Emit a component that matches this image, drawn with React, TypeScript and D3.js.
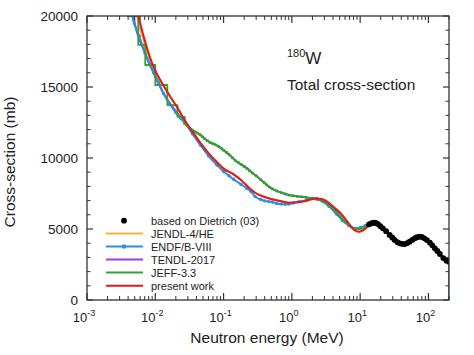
import React from "react";
import * as d3 from "d3";

// ---- data (energies in MeV, cross-sections in mb) ----
const presentE = [0.0050, 0.0057, 0.0070, 0.0094, 0.0125, 0.0166, 0.022, 0.0274, 0.035, 0.046, 0.06, 0.08, 0.1, 0.14, 0.18, 0.25, 0.29, 0.4, 0.52, 0.7, 0.91, 1.2, 1.6, 2.25, 2.8, 3.5, 4.3, 5.2, 6.3, 7.3, 8.2, 9.7, 11, 12.9, 15, 18, 21.5, 27, 32, 38, 45, 53, 63, 74, 87, 105, 124, 147, 184, 200];
const presentXS = [21500, 20000, 18300, 16430, 15300, 14320, 13400, 12600, 11850, 11050, 10350, 9700, 9250, 8850, 8450, 7800, 7550, 7250, 7090, 6950, 6850, 6880, 6990, 7150, 7100, 6820, 6450, 6100, 5600, 5200, 4930, 4810, 4900, 5160, 5350, 5330, 5030, 4560, 4210, 3980, 3940, 4100, 4330, 4450, 4330, 4030, 3630, 3230, 2760, 2690];

const jendlE = [0.0047, 0.0054, 0.0068, 0.0090, 0.0125, 0.0166, 0.022, 0.0274, 0.035, 0.046, 0.06, 0.08, 0.1, 0.14, 0.18, 0.25, 0.29, 0.4, 0.52, 0.7, 0.91, 1.2, 1.6, 2.25, 2.8, 3.5, 4.3, 5.2, 6.3, 7.3, 8.2, 9.7, 11, 12.9, 15, 18, 21.5, 27, 32, 38, 45, 53, 63, 74, 87, 105, 124, 147, 184, 200];
const jendlXS = [21500, 20000, 18200, 16400, 15250, 14300, 13380, 12600, 11850, 11050, 10350, 9700, 9250, 8850, 8450, 7800, 7550, 7250, 7090, 6950, 6850, 6880, 6990, 7150, 7100, 6820, 6450, 6100, 5600, 5200, 4930, 4810, 4900, 5160, 5350, 5330, 5030, 4560, 4210, 3980, 3940, 4100, 4330, 4450, 4330, 4030, 3630, 3230, 2760, 2690];

const endfE = [0.0042, 0.0046, 0.0058, 0.0071, 0.0083, 0.0095, 0.0112, 0.0132, 0.016, 0.02, 0.0235, 0.0274, 0.035, 0.046, 0.06, 0.08, 0.1, 0.12, 0.14, 0.18, 0.22, 0.25, 0.29, 0.35, 0.4, 0.46, 0.52, 0.6, 0.7, 0.8, 0.91, 1.05, 1.27, 1.6, 2.0, 2.3, 2.8, 3.5, 4.5, 5.5, 6.8, 8.2, 10, 12, 14, 16, 18.2, 21.5, 24, 27, 32, 38, 45, 53, 63, 74, 87, 105, 124, 147, 165, 184, 200];
const endfXS = [21500, 20000, 18600, 17370, 16600, 16000, 15300, 14550, 13850, 13200, 12800, 12450, 11700, 10900, 10150, 9500, 9050, 8750, 8500, 8150, 7850, 7650, 7280, 7080, 6980, 6930, 6900, 6800, 6760, 6740, 6760, 6830, 6920, 7000, 7160, 7150, 6950, 6600, 6050, 5600, 5250, 5050, 5100, 5250, 5350, 5440, 5350, 5050, 4850, 4580, 4230, 3990, 3940, 4110, 4340, 4460, 4340, 4040, 3640, 3240, 2950, 2770, 2700];

const tendlE = [0.0044, 0.0048, 0.0071, 0.0095, 0.0132, 0.02, 0.027, 0.032, 0.038, 0.045, 0.053, 0.063, 0.075, 0.085, 0.1, 0.12, 0.15, 0.18, 0.22, 0.264, 0.3, 0.35, 0.43, 0.52, 0.7, 0.91, 1.2, 1.6, 2.25, 2.8, 3.5, 4.3, 5.2, 6.3, 7.3, 8.5, 10, 12, 14.5, 18.2, 21.5, 27, 32, 38, 45, 53, 63, 74, 87, 105, 124, 147, 184, 200];
const tendlXS = [21500, 20000, 17370, 15950, 14550, 13300, 12500, 12100, 11850, 11650, 11350, 11100, 10950, 10800, 10550, 10250, 9800, 9550, 9300, 8950, 8750, 8480, 8100, 7820, 7550, 7390, 7300, 7230, 7090, 7000, 6690, 6300, 5850, 5400, 5150, 5000, 5000, 5200, 5380, 5350, 5050, 4580, 4230, 3990, 3940, 4110, 4340, 4460, 4340, 4040, 3640, 3240, 2770, 2700];

// JEFF-3.3: coarse histogram at low energy, fine points above
const jeffStepE = [0.0030, 0.0040, 0.00563, 0.00713, 0.0100, 0.0150, 0.0211, 0.027];
const jeffStepXS = [23000, 20000, 17960, 16550, 15140, 13730, 12900, 12400];
const jeffE = [0.027, 0.030, 0.032, 0.035, 0.038, 0.041, 0.045, 0.049, 0.053, 0.058, 0.063, 0.069, 0.075, 0.085, 0.093, 0.1, 0.11, 0.12, 0.135, 0.15, 0.165, 0.18, 0.2, 0.22, 0.24, 0.264, 0.3, 0.35, 0.39, 0.43, 0.47, 0.52, 0.6, 0.7, 0.8, 0.91, 1.05, 1.2, 1.4, 1.6, 1.9, 2.25, 2.8, 3.5, 4.3, 5.2, 6.3, 7.3, 8.5, 10, 12, 14.5, 16.3, 18.2, 21.5, 24, 27, 32, 38, 45, 53, 63, 74, 87, 105, 124, 147, 165, 184, 199.9, 200];
const jeffXS = [12400, 12250, 12100, 11970, 11850, 11760, 11650, 11500, 11350, 11220, 11100, 11020, 10950, 10800, 10680, 10550, 10400, 10250, 10020, 9800, 9680, 9550, 9400, 9250, 9100, 8950, 8750, 8480, 8280, 8100, 7950, 7820, 7680, 7560, 7470, 7390, 7340, 7300, 7260, 7230, 7170, 7090, 7000, 6690, 6300, 5850, 5400, 5150, 5000, 5000, 5200, 5380, 5430, 5350, 5050, 4850, 4580, 4230, 3990, 3940, 4110, 4340, 4460, 4340, 4040, 3640, 3240, 2950, 2770, 2700, 0];

const dietrichE = [13.5, 14.5, 15.4, 16.3, 17.2, 18.2, 19.8, 21.5, 24, 27, 29.5, 32, 35, 38, 41.5, 45, 49, 53, 58, 63, 68, 74, 80, 87, 95, 105, 114, 124, 135, 147, 165, 184, 200];
const dietrichXS = [5330, 5400, 5430, 5450, 5420, 5350, 5200, 5050, 4850, 4580, 4400, 4230, 4080, 3990, 3950, 3940, 4010, 4110, 4230, 4340, 4420, 4460, 4440, 4340, 4220, 4040, 3850, 3640, 3450, 3240, 2950, 2770, 2700];
const dietrichErr = [160, 160, 160, 160, 160, 150, 150, 150, 140, 140, 130, 130, 120, 120, 120, 120, 120, 120, 130, 130, 130, 130, 130, 130, 120, 120, 110, 110, 100, 100, 90, 90, 90];

const xTickExps = [-3, -2, -1, 0, 1, 2];
const yTicks = [0, 5000, 10000, 15000, 20000];
const legendLabels = ["based on Dietrich (03)", "JENDL-4/HE", "ENDF/B-VIII", "TENDL-2017", "JEFF-3.3", "present work"];

const COLORS = {
  jendl: "#f6b53a",
  endf: "#2a8ee6",
  tendl: "#a23ed8",
  jeff: "#2ea52e",
  present: "#e3191c",
};

const W = 474;
const H = 355;
const L = 87, R = 449, T = 16, B = 300;
const FONT = "'Liberation Sans', Arial, Helvetica, sans-serif";

export default function App() {
  const x = d3.scaleLog().domain([1e-3, 200]).range([L, R]);
  const y = d3.scaleLinear().domain([0, 20000]).range([B, T]);

  const mk = (E: number[], S: number[], curve: d3.CurveFactory) =>
    d3.line<number>().x((_, i) => x(E[i])).y((_, i) => y(S[i])).curve(curve)(E.map((_, i) => i)) || "";

  const pJendl = mk(jendlE, jendlXS, d3.curveMonotoneX);
  const pTendl = mk(tendlE, tendlXS, d3.curveMonotoneX);
  const pEndf = mk(endfE, endfXS, d3.curveMonotoneX);
  const pJeffStep = mk(jeffStepE, jeffStepXS, d3.curveStepAfter);
  const pJeff = mk(jeffE, jeffXS, d3.curveLinear);
  const pPresent = mk(presentE, presentXS, d3.curveMonotoneX);

  // minor ticks
  const xMinor: number[] = [];
  for (let e = -3; e <= 2; e++) {
    for (let m = 2; m <= 9; m++) {
      const v = m * Math.pow(10, e);
      if (v <= 200) xMinor.push(v);
    }
  }
  const yMinor = d3.range(0, 20001, 1000).filter((v) => v % 5000 !== 0);

  const legendX0 = 106, legendX1 = 143, legendTx = 151;
  const legendY = [220.7, 233.5, 246.5, 259.5, 272.5, 285.7];
  const legendColors = ["#000", COLORS.jendl, COLORS.endf, COLORS.tendl, COLORS.jeff, COLORS.present];

  return (
    <svg width={W} height={H} style={{ position: "absolute", left: 0, top: 0, background: "#fff" }} fontFamily={FONT}>
      <defs>
        <clipPath id="plotclip">
          <rect x={L} y={T} width={R - L} height={B - T} />
        </clipPath>
      </defs>
      <rect x={0} y={0} width={W} height={H} fill="#fff" />

      <g clipPath="url(#plotclip)" fill="none" strokeLinejoin="round">
        <path d={pJendl} stroke={COLORS.jendl} strokeWidth={2} />
        <path d={pTendl} stroke={COLORS.tendl} strokeWidth={2} />
        <path d={pEndf} stroke={COLORS.endf} strokeWidth={2} />
        {endfE.map((e, i) => (
          <circle key={"eb" + i} cx={x(e)} cy={y(endfXS[i])} r={1.7} fill={COLORS.endf} />
        ))}
        <path d={pJeffStep} stroke={COLORS.jeff} strokeWidth={1.8} />
        <path d={pJeff} stroke={COLORS.jeff} strokeWidth={1.8} />
        {jeffE.slice(0, 40).map((e, i) => (
          <rect key={"jm" + i} x={x(e) - 1.3} y={y(jeffXS[i]) - 1.3} width={2.6} height={2.6} fill={COLORS.jeff} />
        ))}
        <path d={pPresent} stroke={COLORS.present} strokeWidth={2} />
        {dietrichE.map((e, i) => (
          <g key={"d" + i}>
            <line x1={x(e)} x2={x(e)} y1={y(dietrichXS[i] - dietrichErr[i])} y2={y(dietrichXS[i] + dietrichErr[i])} stroke="#999" strokeWidth={1} />
            <circle cx={x(e)} cy={y(dietrichXS[i])} r={2.9} fill="#000" />
          </g>
        ))}
      </g>

      {/* frame */}
      <rect x={L} y={T} width={R - L} height={B - T} fill="none" stroke="#333" strokeWidth={1.3} />

      {/* x ticks */}
      {xTickExps.map((e) => {
        const px = x(Math.pow(10, e));
        return (
          <g key={"xt" + e}>
            <line x1={px} x2={px} y1={B} y2={B - 7} stroke="#333" strokeWidth={1.2} />
            <line x1={px} x2={px} y1={T} y2={T + 7} stroke="#333" strokeWidth={1.2} />
            <text x={px - 3} y={322} textAnchor="middle" fontSize={13} fill="#222">
              10
              <tspan dy={-6} fontSize={9}>{e}</tspan>
            </text>
          </g>
        );
      })}
      {xMinor.map((v, i) => {
        const px = x(v);
        return (
          <g key={"xm" + i}>
            <line x1={px} x2={px} y1={B} y2={B - 4} stroke="#333" strokeWidth={1} />
            <line x1={px} x2={px} y1={T} y2={T + 4} stroke="#333" strokeWidth={1} />
          </g>
        );
      })}

      {/* y ticks */}
      {yTicks.map((v) => (
        <g key={"yt" + v}>
          <line x1={L} x2={L + 6} y1={y(v)} y2={y(v)} stroke="#333" strokeWidth={1.2} />
          <line x1={R} x2={R - 6} y1={y(v)} y2={y(v)} stroke="#333" strokeWidth={1.2} />
          <text x={78} y={y(v) + 4.8} textAnchor="end" fontSize={13.5} fill="#222">{v}</text>
        </g>
      ))}
      {yMinor.map((v) => (
        <g key={"ym" + v}>
          <line x1={L} x2={L + 3.5} y1={y(v)} y2={y(v)} stroke="#333" strokeWidth={1} />
          <line x1={R} x2={R - 3.5} y1={y(v)} y2={y(v)} stroke="#333" strokeWidth={1} />
        </g>
      ))}

      {/* axis titles */}
      <text x={267} y={343} textAnchor="middle" fontSize={15.5} fill="#222">Neutron energy (MeV)</text>
      <text transform="translate(15,162) rotate(-90)" textAnchor="middle" fontSize={15.5} fill="#222">Cross-section (mb)</text>

      {/* annotation */}
      <text x={287} y={63.5} fontSize={17} fill="#222">
        <tspan fontSize={11} dy={-6.5}>180</tspan>
        <tspan dy={6.5}>W</tspan>
      </text>
      <text x={287} y={90} fontSize={15.5} fill="#222">Total cross-section</text>

      {/* legend */}
      {legendLabels.map((lab, i) => (
        <g key={"lg" + i}>
          {i === 0 ? (
            <circle cx={124} cy={legendY[i]} r={2.9} fill="#000" />
          ) : (
            <line x1={legendX0} x2={legendX1} y1={legendY[i]} y2={legendY[i]} stroke={legendColors[i]} strokeWidth={2} />
          )}
          {i === 2 && <circle cx={124} cy={legendY[i]} r={2.2} fill={COLORS.endf} />}
          <text x={legendTx} y={legendY[i] + 4} fontSize={11} fill="#222">{lab}</text>
        </g>
      ))}
    </svg>
  );
}
